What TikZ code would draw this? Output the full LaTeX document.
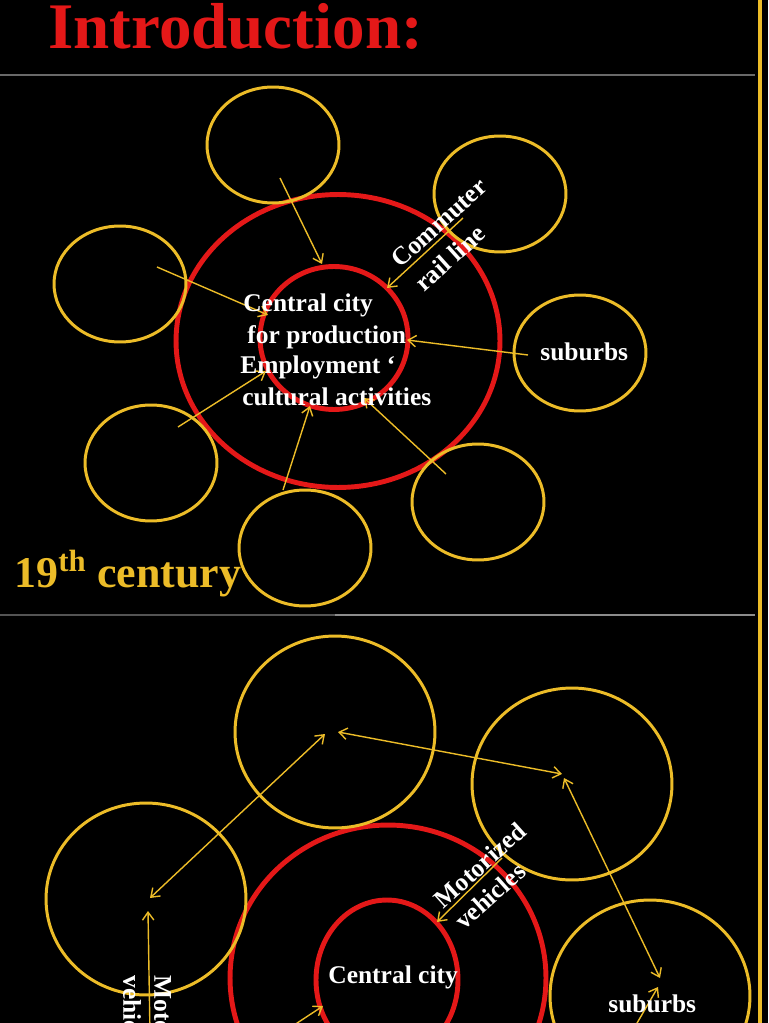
\documentclass[tikz,border=0pt]{standalone}
\usepackage{fontspec}
\setmainfont{Liberation Serif}
\usetikzlibrary{shapes.geometric,arrows.meta}
\definecolor{townyellow}{RGB}{236,188,40}
\definecolor{cityred}{RGB}{228,24,24}
\definecolor{rulegray}{RGB}{105,105,105}

\begin{document}
\begin{tikzpicture}[x=0.02cm,y=-0.02cm,>={Straight Barb[length=4.5pt,width=6.5pt]},
  town/.style={ellipse,draw=townyellow,line width=1.7pt,inner sep=0pt,minimum width=2.64cm,minimum height=2.32cm},
  bigtown/.style={town,minimum width=4cm,minimum height=3.84cm},
  city/.style={ellipse,draw=cityred,line width=2.8pt,inner sep=0pt},
  txt/.style={text=white,font=\bfseries\fontsize{14.5}{17}\selectfont,inner sep=0pt},
  road/.style={townyellow,line width=0.8pt}]
  \useasboundingbox (0,0) rectangle (768,1023);
  \clip (0,0) rectangle (768,1023);
  \fill[black] (0,0) rectangle (768,1023);
  \draw[rulegray,line width=1.7pt] (0,75) -- (755,75);
  \draw[rulegray!80!black,line width=1.7pt] (0,615) -- (335,615);
  \draw[gray!90,line width=1.7pt] (335,615) -- (755,615);
  \draw[townyellow,line width=2.8pt] (760,0) -- (760,1023);

  \node[anchor=base west,inner sep=0pt,text=cityred,font=\bfseries\fontsize{37}{40}\selectfont] (title) at (48,49) {Introduction:};

  % 19th century
  \node[city,minimum width=6.48cm,minimum height=5.86cm] (ring) at (338,341) {};
  \node[city,minimum width=2.96cm,minimum height=2.86cm] (core) at (334,338) {};
  \node[town] (t1) at (273,145) {};
  \node[town] (t2) at (500,194) {};
  \node[town] (t3) at (120,284) {};
  \node[town] (t4) at (580,353) {};
  \node[town] (t5) at (151,463) {};
  \node[town] (t6) at (305,548) {};
  \node[town] (t7) at (478,502) {};

  \coordinate (s1) at (280,178); \coordinate (e1) at (322,264);
  \coordinate (s2) at (463,218); \coordinate (e2) at (387,288);
  \coordinate (s3) at (157,267); \coordinate (e3) at (268,315);
  \coordinate (s4) at (528,355); \coordinate (e4) at (407,340);
  \coordinate (s5) at (178,427); \coordinate (e5) at (266,371);
  \coordinate (s6) at (283,490); \coordinate (e6) at (310,406);
  \coordinate (s7) at (446,474); \coordinate (e7) at (364,398);
  \path[road,->]
  (s1) edge (e1)
  (s2) edge (e2)
  (s3) edge (e3)
  (s4) edge (e4)
  (s5) edge (e5)
  (s6) edge (e6)
  (s7) edge (e7)
  ;

  \node[txt,anchor=base west] (l1) at (243,312) {Central city};
  \node[txt,anchor=base west] (l2) at (247,344) {for production};
  \node[txt,anchor=base west] (l3) at (240,374) {Employment ‘};
  \node[txt,anchor=base west] (l4) at (242,405) {cultural activities};
  \node[txt,rotate=42] (rail1) at (439,223) {Commuter};
  \node[txt,rotate=42] (rail2) at (450,258) {rail line};
  \node[txt,anchor=base west] (sub1) at (540,360) {suburbs};
  \node[anchor=base west,inner sep=0pt,text=townyellow,font=\bfseries\fontsize{25}{30}\selectfont] (era) at (14,587) {19\textsuperscript{th} century};

  % motor age
  \node[city,minimum width=6.32cm,minimum height=6.12cm] (ring2) at (388,978) {};
  \node[city,minimum width=2.84cm,minimum height=3.2cm] (core2) at (387,980) {};
  \node[bigtown] (u1) at (335,732) {};
  \node[bigtown] (u2) at (572,784) {};
  \node[bigtown] (u3) at (146,899) {};
  \node[bigtown] (u4) at (650,996) {};

  \coordinate (p1) at (150,898); \coordinate (q1) at (325,734);
  \coordinate (p2) at (338,732); \coordinate (q2) at (562,774);
  \coordinate (p3) at (564,778); \coordinate (q3) at (660,978);
  \coordinate (p4) at (150,1035); \coordinate (q4) at (148,911);
  \coordinate (p5) at (285,1031); \coordinate (q5) at (323,1006);
  \coordinate (p6) at (633,1030); \coordinate (q6) at (658,987);
  \coordinate (p7) at (502,858); \coordinate (q7) at (437,922);
  \path[road]
  (p1) edge[<->] (q1)
  (p2) edge[<->] (q2)
  (p3) edge[<->] (q3)
  (p4) edge[->] (q4)
  (p5) edge[->] (q5)
  (p6) edge[->] (q6)
  (p7) edge[->] (q7)
  ;

  \node[txt,anchor=base west] (cc2) at (328,983) {Central city};
  \node[txt,anchor=base west] (sub2) at (608,1012) {suburbs};
  \node[txt,rotate=42] (mv1) at (480,865) {Motorized};
  \node[txt,rotate=42] (mv2) at (490,896) {vehicles};
  \node[txt,rotate=-90,anchor=west] (mv3) at (163,975) {Motorized};
  \node[txt,rotate=-90,anchor=west] (mv4) at (132,975) {vehicles};
\end{tikzpicture}
\end{document}
